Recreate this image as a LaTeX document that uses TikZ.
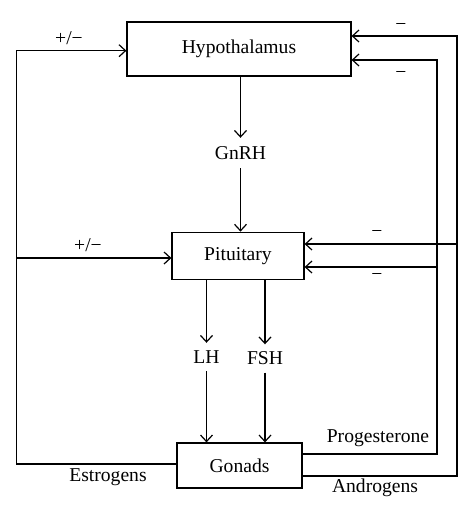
\documentclass[tikz,border=0pt]{standalone}
\usepackage{fontspec}
\setmainfont{Liberation Serif}
\usetikzlibrary{arrows.meta}
\begin{document}
\begin{tikzpicture}[x=1pt,y=-1pt,
  every node/.style={font=\fontsize{19.6}{22}\selectfont},
  box/.style={draw,line width=1.2pt,inner sep=0pt},
  lbl/.style={inner sep=0pt,minimum height=28pt},
  arr/.style={line width=1.2pt,-{Straight Barb[length=6.5pt,width=12pt]}},
  ln/.style={line width=1.2pt}]
\useasboundingbox (0,0) rectangle (474,519);
\node[box,minimum width=224pt,minimum height=54pt] (hyp) at (239,49) {Hypothalamus};
\node[box,minimum width=132pt,minimum height=47.5pt] (pit) at (238,256) {Pituitary};
\node[box,minimum width=125pt,minimum height=45pt] (gon) at (239.5,465.5) {Gonads};
\node[lbl,minimum height=30pt] (gnrh) at (240.5,153) {GnRH};
\node[lbl] (lh) at (206.5,357) {LH};
\node[lbl] (fsh) at (265,358.5) {FSH};
% vertical arrows
\draw[arr] (hyp.south -| gnrh) -- (gnrh.north);
\draw[arr] (gnrh.south) -- (pit.north -| gnrh);
\draw[arr] (pit.south -| lh) -- (lh.north);
\draw[arr] (lh.south) -- (gon.north -| lh);
\draw[arr] (pit.south -| fsh) -- (fsh.north);
\draw[arr] (fsh.south) -- (gon.north -| fsh);
% left loop (estrogens)
\coordinate (L) at (16.7,250);
\draw[arr] ([yshift=1.5pt]gon.west) -| (L) |- ([yshift=-1.7pt]hyp.west);
\coordinate (pL) at ([yshift=-2pt]pit.west);
\draw[arr] (L |- pL) -- (pL);
% right loops
\coordinate (RA) at (457,250);
\coordinate (RP) at (437,250);
\draw[arr] ([yshift=-10.5pt]gon.east) -| (RA) |- ([yshift=13pt]hyp.east);
\draw[arr] ([yshift=11.5pt]gon.east) -| (RP) |- ([yshift=-11pt]hyp.east);
\coordinate (pA) at ([yshift=12pt]pit.east);
\coordinate (pP) at ([yshift=-11pt]pit.east);
\draw[arr] (RA |- pA) -- (pA);
\draw[arr] (RP |- pP) -- (pP);
% labels
\node (pm1) at (69,38) {+/−};
\node (pm2) at (88,245) {+/−};
\node (m1) at (401,27) {−};
\node (m2) at (401,75) {−};
\node (m3) at (377,234) {−};
\node (m4) at (377,277) {−};
\node (est) at (108,477) {Estrogens};
\node (pro) at (378,438) {Progesterone};
\node (and) at (375,488) {Androgens};
\end{tikzpicture}
\end{document}
